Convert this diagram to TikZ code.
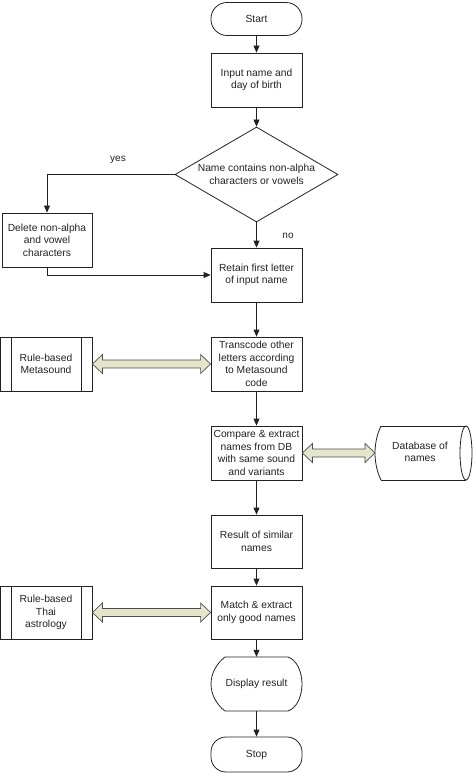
\documentclass[tikz,border=0pt]{standalone}
\usepackage{fontspec}
\setmainfont{Liberation Sans}
\usetikzlibrary{shapes.geometric,arrows.meta,calc}
\definecolor{ink}{HTML}{222222}
\definecolor{hollowfill}{HTML}{E3E5CC}
\tikzset{
  box/.style={draw=ink, line width=0.8pt, minimum width=91pt, minimum height=54pt, inner sep=0pt, align=center, font=\fontsize{10.3}{12.5}\selectfont, text=ink},
  term/.style={box, rounded corners=16pt},
  dec/.style={draw=ink, line width=0.8pt, shape=diamond, minimum width=163pt, minimum height=95pt, shape aspect=1.72, inner sep=0pt, align=center, font=\fontsize{10.3}{12.5}\selectfont, text=ink},
  free/.style={inner sep=0pt, align=center, font=\fontsize{10.3}{12.5}\selectfont, text=ink},
  flow/.style={draw=ink, line width=0.8pt, -{Triangle[length=7pt,width=6pt]}},
  hollow/.style={draw=ink!80, line width=0.7pt, fill=hollowfill, line join=miter},
  lbl/.style={font=\fontsize{10}{11}\selectfont, text=ink, inner sep=0pt}
}
\newcommand{\dblarr}[2]{%
  \path (#1) coordinate (dA) (#2) coordinate (dB);
  \draw[hollow] let \p1=(dA), \p2=(dB) in
    (\x1,\y1) -- (\x1+10pt,\y1+9.5pt) -- (\x1+10pt,\y1+4pt) -- (\x2-10pt,\y2+4pt)
    -- (\x2-10pt,\y2+9.5pt) -- (\x2,\y2) -- (\x2-10pt,\y2-9.5pt) -- (\x2-10pt,\y2-4pt)
    -- (\x1+10pt,\y1-4pt) -- (\x1+10pt,\y1-9.5pt) -- cycle;
}
\begin{document}
\begin{tikzpicture}[x=1pt,y=-1pt]
\useasboundingbox (0,0) rectangle (474,773);
% main column
\node[term, minimum height=33pt] (start) at (256.5,19) {Start};
\node[box] (inp) at (256.5,80) {Input name and\\day of birth};
\node[dec] (dia) at (256.5,174.5) {Name contains non-alpha\\characters or vowels};
\node[box, minimum width=90pt] (del) at (47,240) {Delete non-alpha\\and vowel\\characters};
\node[box] (ret) at (256.5,275) {Retain first letter\\of input name};
\node[box] (trc) at (256.5,364) {Transcode other\\letters according\\to Metasound\\code};
\node[box] (cmp) at (256.5,453) {Compare \& extract\\names from DB\\with same sound\\and variants};
\node[box, minimum height=53pt] (res) at (256.5,541.5) {Result of similar\\names};
\node[box, minimum height=53pt] (mat) at (256.5,612.5) {Match \& extract\\only good names};
\node[free, minimum width=91pt, minimum height=54pt] (disp) at (256.5,684) {Display result};
\draw[draw=ink, line width=0.8pt] (225,657) -- (288,657) .. controls (297,660) and (302,672) .. (302,684)
  .. controls (302,696) and (297,708) .. (288,711) -- (225,711)
  .. controls (217,705) and (211,695) .. (211,684) .. controls (211,673) and (217,663) .. (225,657) -- cycle;
\node[term, minimum height=35pt, rounded corners=15pt] (stop) at (256.5,754.5) {Stop};
% side process boxes
\node[box, minimum width=92pt] (meta) at (46,364) {Rule-based\\Metasound};
\draw[draw=ink, line width=0.8pt] (11,337) -- (11,391) (81,337) -- (81,391);
\node[box, minimum width=92pt, minimum height=53pt] (thai) at (46,612.5) {Rule-based\\Thai\\astrology};
\draw[draw=ink, line width=0.8pt] (11,586) -- (11,639) (81,586) -- (81,639);
% database cylinder
\draw[draw=ink, line width=0.8pt] (381,426) -- (466,426) (381,480) -- (466,480);
\draw[draw=ink, line width=0.8pt] (381,426) .. controls (377,434) and (375,444) .. (375,453) .. controls (375,462) and (377,472) .. (381,480);
\draw[draw=ink, line width=0.8pt] (466,453) ellipse [x radius=6, y radius=27];
\node[free] (db) at (420,452) {Database of\\names};
\coordinate (dbw) at (375,453);
% connectors
\draw[flow] (start) -- (inp);
\draw[flow] (inp) -- (dia);
\draw[flow] (dia) -- (ret);
\node[lbl] at (288,236) {no};
\draw[flow] (dia.west) -| (del.north);
\node[lbl] at (118,160) {yes};
\draw[flow] (del.south) |- (ret.west);
\draw[flow] (ret) -- (trc);
\draw[flow] (trc) -- (cmp);
\draw[flow] (cmp) -- (res);
\draw[flow] (res) -- (mat);
\draw[flow] (mat) -- (disp);
\draw[flow] (disp) -- (stop);
% hollow double arrows
\dblarr{meta.east}{trc.west}
\dblarr{cmp.east}{dbw}
\dblarr{thai.east}{mat.west}
\end{tikzpicture}
\end{document}
